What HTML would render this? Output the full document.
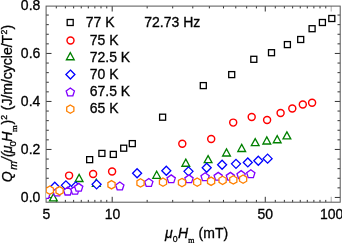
<!DOCTYPE html>
<html><head><meta charset="utf-8"><title>Qm plot</title>
<style>html,body{margin:0;padding:0;background:#fff;overflow:hidden}svg{display:block}text{font-family:"Liberation Sans",Arial,sans-serif;fill:#000;stroke:#000;stroke-width:0.3px}</style>
</head><body>
<svg width="342" height="243" viewBox="0 0 342 243">
<rect width="342" height="243" fill="#fff"/>
<g stroke="#333" stroke-width="1" fill="none">
<path d="M46.10 197.45h5.4M340.20 197.45h-5.4"/>
<path d="M46.10 187.85h2.7M340.20 187.85h-2.7"/>
<path d="M46.10 178.25h2.7M340.20 178.25h-2.7"/>
<path d="M46.10 168.65h2.7M340.20 168.65h-2.7"/>
<path d="M46.10 159.05h2.7M340.20 159.05h-2.7"/>
<path d="M46.10 149.45h5.4M340.20 149.45h-5.4"/>
<path d="M46.10 139.85h2.7M340.20 139.85h-2.7"/>
<path d="M46.10 130.25h2.7M340.20 130.25h-2.7"/>
<path d="M46.10 120.65h2.7M340.20 120.65h-2.7"/>
<path d="M46.10 111.05h2.7M340.20 111.05h-2.7"/>
<path d="M46.10 101.45h5.4M340.20 101.45h-5.4"/>
<path d="M46.10 91.85h2.7M340.20 91.85h-2.7"/>
<path d="M46.10 82.25h2.7M340.20 82.25h-2.7"/>
<path d="M46.10 72.65h2.7M340.20 72.65h-2.7"/>
<path d="M46.10 63.05h2.7M340.20 63.05h-2.7"/>
<path d="M46.10 53.45h5.4M340.20 53.45h-5.4"/>
<path d="M46.10 43.85h2.7M340.20 43.85h-2.7"/>
<path d="M46.10 34.25h2.7M340.20 34.25h-2.7"/>
<path d="M46.10 24.65h2.7M340.20 24.65h-2.7"/>
<path d="M46.10 15.05h2.7M340.20 15.05h-2.7"/>
<path d="M56.30 202.20v-2.3000000000000003M56.30 6.10v2.3000000000000003"/>
<path d="M65.36 202.20v-2.3000000000000003M65.36 6.10v2.3000000000000003"/>
<path d="M73.64 202.20v-2.3000000000000003M73.64 6.10v2.3000000000000003"/>
<path d="M81.25 202.20v-2.3000000000000003M81.25 6.10v2.3000000000000003"/>
<path d="M88.30 202.20v-2.3000000000000003M88.30 6.10v2.3000000000000003"/>
<path d="M94.86 202.20v-2.3000000000000003M94.86 6.10v2.3000000000000003"/>
<path d="M101.00 202.20v-2.3000000000000003M101.00 6.10v2.3000000000000003"/>
<path d="M106.76 202.20v-2.3000000000000003M106.76 6.10v2.3000000000000003"/>
<path d="M112.20 202.20v-5.4M112.20 6.10v5.4"/>
<path d="M147.17 202.20v-2.3000000000000003M147.17 6.10v2.3000000000000003"/>
<path d="M172.69 202.20v-2.3000000000000003M172.69 6.10v2.3000000000000003"/>
<path d="M192.79 202.20v-2.3000000000000003M192.79 6.10v2.3000000000000003"/>
<path d="M209.37 202.20v-2.3000000000000003M209.37 6.10v2.3000000000000003"/>
<path d="M223.49 202.20v-2.3000000000000003M223.49 6.10v2.3000000000000003"/>
<path d="M235.78 202.20v-2.3000000000000003M235.78 6.10v2.3000000000000003"/>
<path d="M246.66 202.20v-2.3000000000000003M246.66 6.10v2.3000000000000003"/>
<path d="M256.42 202.20v-2.3000000000000003M256.42 6.10v2.3000000000000003"/>
<path d="M265.27 202.20v-5.4M265.27 6.10v5.4"/>
<path d="M275.30 202.20v-2.3000000000000003M275.30 6.10v2.3000000000000003"/>
<path d="M284.36 202.20v-2.3000000000000003M284.36 6.10v2.3000000000000003"/>
<path d="M292.64 202.20v-2.3000000000000003M292.64 6.10v2.3000000000000003"/>
<path d="M300.25 202.20v-2.3000000000000003M300.25 6.10v2.3000000000000003"/>
<path d="M307.30 202.20v-2.3000000000000003M307.30 6.10v2.3000000000000003"/>
<path d="M313.86 202.20v-2.3000000000000003M313.86 6.10v2.3000000000000003"/>
<path d="M320.00 202.20v-2.3000000000000003M320.00 6.10v2.3000000000000003"/>
<path d="M325.76 202.20v-2.3000000000000003M325.76 6.10v2.3000000000000003"/>
<path stroke="#aaa" d="M331.20 202.20v-5.4M331.20 6.10v5.4"/>
<rect stroke="#555" x="46.1" y="6.1" width="294.10" height="196.10"/>
</g>
<clipPath id="pc"><rect x="46.1" y="6.1" width="294.10" height="196.60"/></clipPath>
<g fill="#fff" stroke-width="1.3" stroke-linejoin="miter" clip-path="url(#pc)">
<g stroke="#000"><rect x="86.65" y="156.65" width="6.0" height="6.0"/><rect x="98.90" y="150.40" width="6.0" height="6.0"/><rect x="110.30" y="151.40" width="6.0" height="6.0"/><rect x="120.70" y="145.20" width="6.0" height="6.0"/><rect x="129.30" y="140.60" width="6.0" height="6.0"/><rect x="159.60" y="114.20" width="6.0" height="6.0"/><rect x="200.30" y="82.60" width="6.0" height="6.0"/><rect x="228.70" y="71.60" width="6.0" height="6.0"/><rect x="250.80" y="56.30" width="6.0" height="6.0"/><rect x="268.50" y="49.70" width="6.0" height="6.0"/><rect x="284.40" y="41.60" width="6.0" height="6.0"/><rect x="297.70" y="36.50" width="6.0" height="6.0"/><rect x="309.10" y="25.70" width="6.0" height="6.0"/><rect x="319.40" y="19.50" width="6.0" height="6.0"/><rect x="328.80" y="15.50" width="6.0" height="6.0"/></g>
<g stroke="#ff0000" stroke-width="1.45"><circle cx="69.10" cy="175.60" r="3.5"/><circle cx="93.10" cy="174.00" r="3.5"/><circle cx="112.10" cy="171.40" r="3.5"/><circle cx="182.30" cy="143.70" r="3.5"/><circle cx="211.20" cy="138.90" r="3.5"/><circle cx="233.20" cy="122.60" r="3.5"/><circle cx="251.70" cy="117.00" r="3.5"/><circle cx="267.10" cy="120.00" r="3.5"/><circle cx="280.60" cy="113.00" r="3.5"/><circle cx="292.30" cy="108.40" r="3.5"/><circle cx="302.80" cy="104.50" r="3.5"/><circle cx="312.10" cy="102.80" r="3.5"/></g>
<g stroke="#008000"><path d="M53.40 193.79L57.30 200.88L49.50 200.88Z"/><path d="M79.10 174.42L83.00 181.51L75.20 181.51Z"/><path d="M96.30 179.19L100.20 186.28L92.40 186.28Z"/><path d="M156.70 171.19L160.60 178.28L152.80 178.28Z"/><path d="M185.80 159.15L189.70 166.25L181.90 166.25Z"/><path d="M208.10 155.59L212.00 162.68L204.20 162.68Z"/><path d="M226.50 148.89L230.40 155.98L222.60 155.98Z"/><path d="M241.70 144.39L245.60 151.48L237.80 151.48Z"/><path d="M255.20 138.62L259.10 145.71L251.30 145.71Z"/><path d="M266.80 136.89L270.70 143.98L262.90 143.98Z"/><path d="M277.20 135.65L281.10 142.75L273.30 142.75Z"/><path d="M286.90 131.82L290.80 138.91L283.00 138.91Z"/></g>
<g stroke="#0000ff"><path d="M54.80 182.25L59.30 186.75L54.80 191.25L50.30 186.75Z"/><path d="M65.90 180.85L70.40 185.35L65.90 189.85L61.40 185.35Z"/><path d="M75.80 181.85L80.30 186.35L75.80 190.85L71.30 186.35Z"/><path d="M96.60 179.85L101.10 184.35L96.60 188.85L92.10 184.35Z"/><path d="M137.10 168.75L141.60 173.25L137.10 177.75L132.60 173.25Z"/><path d="M166.30 166.25L170.80 170.75L166.30 175.25L161.80 170.75Z"/><path d="M188.50 166.85L193.00 171.35L188.50 175.85L184.00 171.35Z"/><path d="M206.70 163.25L211.20 167.75L206.70 172.25L202.20 167.75Z"/><path d="M222.10 160.25L226.60 164.75L222.10 169.25L217.60 164.75Z"/><path d="M236.00 159.35L240.50 163.85L236.00 168.35L231.50 163.85Z"/><path d="M247.80 157.95L252.30 162.45L247.80 166.95L243.30 162.45Z"/><path d="M258.30 156.25L262.80 160.75L258.30 165.25L253.80 160.75Z"/><path d="M267.60 154.15L272.10 158.65L267.60 163.15L263.10 158.65Z"/></g>
<g stroke="#8000ff"><path d="M46.00 190.55L50.14 193.56L48.56 198.42L43.44 198.42L41.86 193.56Z"/><path d="M57.10 188.05L61.24 191.06L59.66 195.92L54.54 195.92L52.96 191.06Z"/><path d="M67.70 187.15L71.84 190.16L70.26 195.02L65.14 195.02L63.56 190.16Z"/><path d="M75.00 186.25L79.14 189.26L77.56 194.12L72.44 194.12L70.86 189.26Z"/><path d="M78.70 183.35L82.84 186.36L81.26 191.22L76.14 191.22L74.56 186.36Z"/><path d="M119.80 181.95L123.94 184.96L122.36 189.82L117.24 189.82L115.66 184.96Z"/><path d="M148.80 178.55L152.94 181.56L151.36 186.42L146.24 186.42L144.66 181.56Z"/><path d="M171.20 174.85L175.34 177.86L173.76 182.72L168.64 182.72L167.06 177.86Z"/><path d="M189.00 174.85L193.14 177.86L191.56 182.72L186.44 182.72L184.86 177.86Z"/><path d="M205.10 172.75L209.24 175.76L207.66 180.62L202.54 180.62L200.96 175.76Z"/><path d="M218.20 172.35L222.34 175.36L220.76 180.22L215.64 180.22L214.06 175.36Z"/><path d="M230.40 172.35L234.54 175.36L232.96 180.22L227.84 180.22L226.26 175.36Z"/><path d="M241.10 170.65L245.24 173.66L243.66 178.52L238.54 178.52L236.96 173.66Z"/><path d="M250.80 169.75L254.94 172.76L253.36 177.62L248.24 177.62L246.66 172.76Z"/></g>
<g stroke="#ff8000"><path d="M49.85 186.05L53.44 188.13L53.44 192.28L49.85 194.35L46.26 192.28L46.26 188.13Z"/><path d="M59.55 186.60L63.14 188.68L63.14 192.82L59.55 194.90L55.96 192.82L55.96 188.68Z"/><path d="M111.50 180.60L115.09 182.68L115.09 186.82L111.50 188.90L107.91 186.82L107.91 182.68Z"/><path d="M140.50 178.80L144.09 180.88L144.09 185.03L140.50 187.10L136.91 185.03L136.91 180.88Z"/><path d="M163.00 178.00L166.59 180.08L166.59 184.22L163.00 186.30L159.41 184.22L159.41 180.08Z"/><path d="M182.00 178.40L185.59 180.48L185.59 184.62L182.00 186.70L178.41 184.62L178.41 180.48Z"/><path d="M197.20 178.00L200.79 180.08L200.79 184.22L197.20 186.30L193.61 184.22L193.61 180.08Z"/><path d="M211.10 177.10L214.69 179.18L214.69 183.32L211.10 185.40L207.51 183.32L207.51 179.18Z"/><path d="M222.60 176.20L226.19 178.28L226.19 182.42L222.60 184.50L219.01 182.42L219.01 178.28Z"/><path d="M233.30 175.80L236.89 177.88L236.89 182.03L233.30 184.10L229.71 182.03L229.71 177.88Z"/><path d="M243.10 175.00L246.69 177.08L246.69 181.22L243.10 183.30L239.51 181.22L239.51 177.08Z"/></g>
</g>
<g fill="none" stroke-width="1.3">
<g stroke="#000"><rect x="67.20" y="19.50" width="6.0" height="6.0"/></g>
<g stroke="#ff0000" stroke-width="1.45"><circle cx="70.50" cy="40.50" r="3.5"/></g>
<g stroke="#008000"><path d="M70.30 52.67L74.20 59.76L66.40 59.76Z"/></g>
<g stroke="#0000ff"><path d="M70.40 70.05L74.90 74.55L70.40 79.05L65.90 74.55Z"/></g>
<g stroke="#8000ff"><path d="M70.30 87.95L74.44 90.96L72.86 95.82L67.74 95.82L66.16 90.96Z"/></g>
<g stroke="#ff8000"><path d="M70.30 105.00L73.89 107.08L73.89 111.23L70.30 113.30L66.71 111.23L66.71 107.08Z"/></g>
</g>
<g font-size="13.8">
<text transform="translate(85.80 27.20) scale(1.015 1)">77 K</text>
<text transform="translate(144.30 27.20) scale(1.015 1)">72.73 Hz</text>
<text transform="translate(89.70 44.60) scale(1.015 1)">75 K</text>
<text transform="translate(89.70 61.60) scale(1.015 1)">72.5 K</text>
<text transform="translate(89.70 78.80) scale(1.015 1)">70 K</text>
<text transform="translate(89.70 95.90) scale(1.015 1)">67.5 K</text>
<text transform="translate(89.70 113.00) scale(1.015 1)">65 K</text>
<text transform="translate(40.30 201.95) scale(1.015 1)" text-anchor="end">0.0</text>
<text transform="translate(40.30 153.95) scale(1.015 1)" text-anchor="end">0.2</text>
<text transform="translate(40.30 105.95) scale(1.015 1)" text-anchor="end">0.4</text>
<text transform="translate(40.30 57.95) scale(1.015 1)" text-anchor="end">0.6</text>
<text transform="translate(40.30 9.95) scale(1.015 1)" text-anchor="end">0.8</text>
<text transform="translate(46.50 218.90) scale(1.015 1)" text-anchor="middle">5</text>
<text transform="translate(112.60 218.90) scale(1.015 1)" text-anchor="middle">10</text>
<text transform="translate(265.27 218.90) scale(1.015 1)" text-anchor="middle">50</text>
<text transform="translate(331.70 218.90) scale(1.015 1)" text-anchor="middle">100</text>
<text transform="translate(164.9 238.4) scale(1.015 1)"><tspan font-style="italic">μ</tspan><tspan font-size="8.6" dy="4" dx="0.2">0</tspan><tspan font-style="italic" dy="-4" dx="0.4">H</tspan><tspan font-size="7.8" dy="4.5" font-family="Liberation Serif,serif">m</tspan><tspan dy="-4.5" dx="0.4"> (mT)</tspan></text>
<text transform="translate(12.1 182.2) rotate(-90) scale(1.015 1)"><tspan font-style="italic">Q</tspan><tspan font-size="10.3" dy="4.4" dx="1.6" font-style="italic">m</tspan><tspan dy="-4.4" font-style="italic">/(</tspan><tspan font-style="italic" dx="-0.8">μ</tspan><tspan font-size="9.6" dy="4" dx="-1">0</tspan><tspan font-style="italic" dy="-4" dx="-0.5">H</tspan><tspan font-size="8.4" dy="4.5" dx="-0.4" font-family="Liberation Serif,serif">m</tspan><tspan dy="-4.5" dx="0.8">)</tspan><tspan font-size="8.6" dy="-5">2</tspan><tspan dy="5" dx="0.8"> (J/m/cycle/T</tspan><tspan font-size="8.6" dy="-5" dx="0.3">2</tspan><tspan dy="5" dx="0.2">)</tspan></text>
</g>
</svg></body></html>
